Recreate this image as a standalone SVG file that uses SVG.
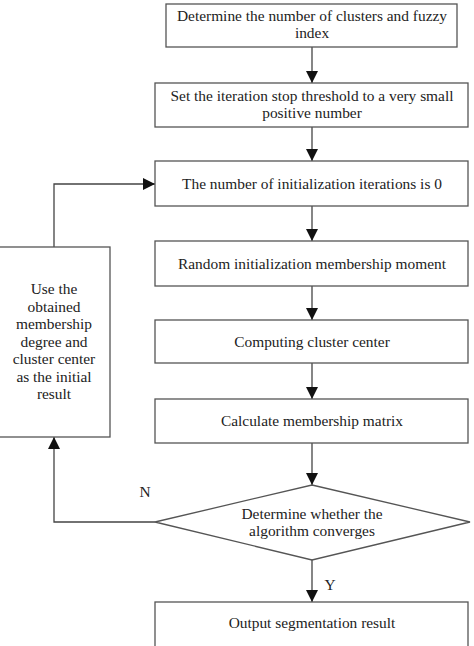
<svg xmlns="http://www.w3.org/2000/svg" width="474" height="646" viewBox="0 0 474 646">
<style>
.box{fill:#fff;stroke:#555;stroke-width:1.3}
.t{font-family:'Liberation Serif','DejaVu Serif',serif;font-size:15.4px;fill:#222;text-anchor:middle}
.c{fill:none;stroke:#444;stroke-width:1.3}
</style>
<defs>
<marker id="ah" viewBox="0 0 12 12" refX="12" refY="6" markerWidth="12" markerHeight="12" markerUnits="userSpaceOnUse" orient="auto">
<path d="M0,0 L12,6 L0,12 Z" fill="#111"/>
</marker>
</defs>
<rect width="474" height="646" fill="#fff"/>
<g id="connectors">
<line class="c" x1="312" y1="47" x2="312" y2="83" marker-end="url(#ah)"/>
<line class="c" x1="312" y1="127" x2="312" y2="161" marker-end="url(#ah)"/>
<line class="c" x1="312" y1="206" x2="312" y2="241" marker-end="url(#ah)"/>
<line class="c" x1="312" y1="286" x2="312" y2="320" marker-end="url(#ah)"/>
<line class="c" x1="312" y1="363" x2="312" y2="399" marker-end="url(#ah)"/>
<line class="c" x1="312" y1="443" x2="312" y2="485" marker-end="url(#ah)"/>
<line class="c" x1="312" y1="560" x2="312" y2="602" marker-end="url(#ah)"/>
<polyline class="c" points="54,247 54,184 155,184" marker-end="url(#ah)"/>
<polyline class="c" points="155,522 54,522 54,437" marker-end="url(#ah)"/>
<text class="t" x="145" y="497">N</text>
<text class="t" x="330" y="590">Y</text>
</g>
<g id="n1"><rect class="box" x="166" y="4" width="291" height="43"/>
<text class="t" x="312" y="21">Determine the number of clusters and fuzzy</text>
<text class="t" x="312" y="38">index</text></g>
<g id="n2"><rect class="box" x="155" y="83" width="313" height="44"/>
<text class="t" x="312" y="100.5">Set the iteration stop threshold to a very small</text>
<text class="t" x="312" y="117.5">positive number</text></g>
<g id="n3"><rect class="box" x="155" y="161" width="313" height="45"/>
<text class="t" x="312" y="188.5">The number of initialization iterations is 0</text></g>
<g id="n4"><rect class="box" x="155" y="241" width="313" height="45"/>
<text class="t" x="312" y="268.5">Random initialization membership moment</text></g>
<g id="n5"><rect class="box" x="155" y="320" width="313" height="43"/>
<text class="t" x="312" y="346.5">Computing cluster center</text></g>
<g id="n6"><rect class="box" x="155" y="399" width="313" height="44"/>
<text class="t" x="312" y="425.5">Calculate membership matrix</text></g>
<g id="n7"><polygon class="box" points="312,485 470,522 312,560 155,522"/>
<text class="t" x="312" y="519">Determine whether the</text>
<text class="t" x="312" y="535.5">algorithm converges</text></g>
<g id="n8"><rect class="box" x="155" y="602" width="313" height="60"/>
<text class="t" x="312" y="628">Output segmentation result</text></g>
<g id="n9"><rect class="box" x="-2" y="247" width="112" height="190"/>
<text class="t" x="54" y="294">Use the</text>
<text class="t" x="54" y="311.5">obtained</text>
<text class="t" x="54" y="329">membership</text>
<text class="t" x="54" y="346.5">degree and</text>
<text class="t" x="54" y="364">cluster center</text>
<text class="t" x="54" y="381.5">as the initial</text>
<text class="t" x="54" y="399">result</text></g>
</svg>
